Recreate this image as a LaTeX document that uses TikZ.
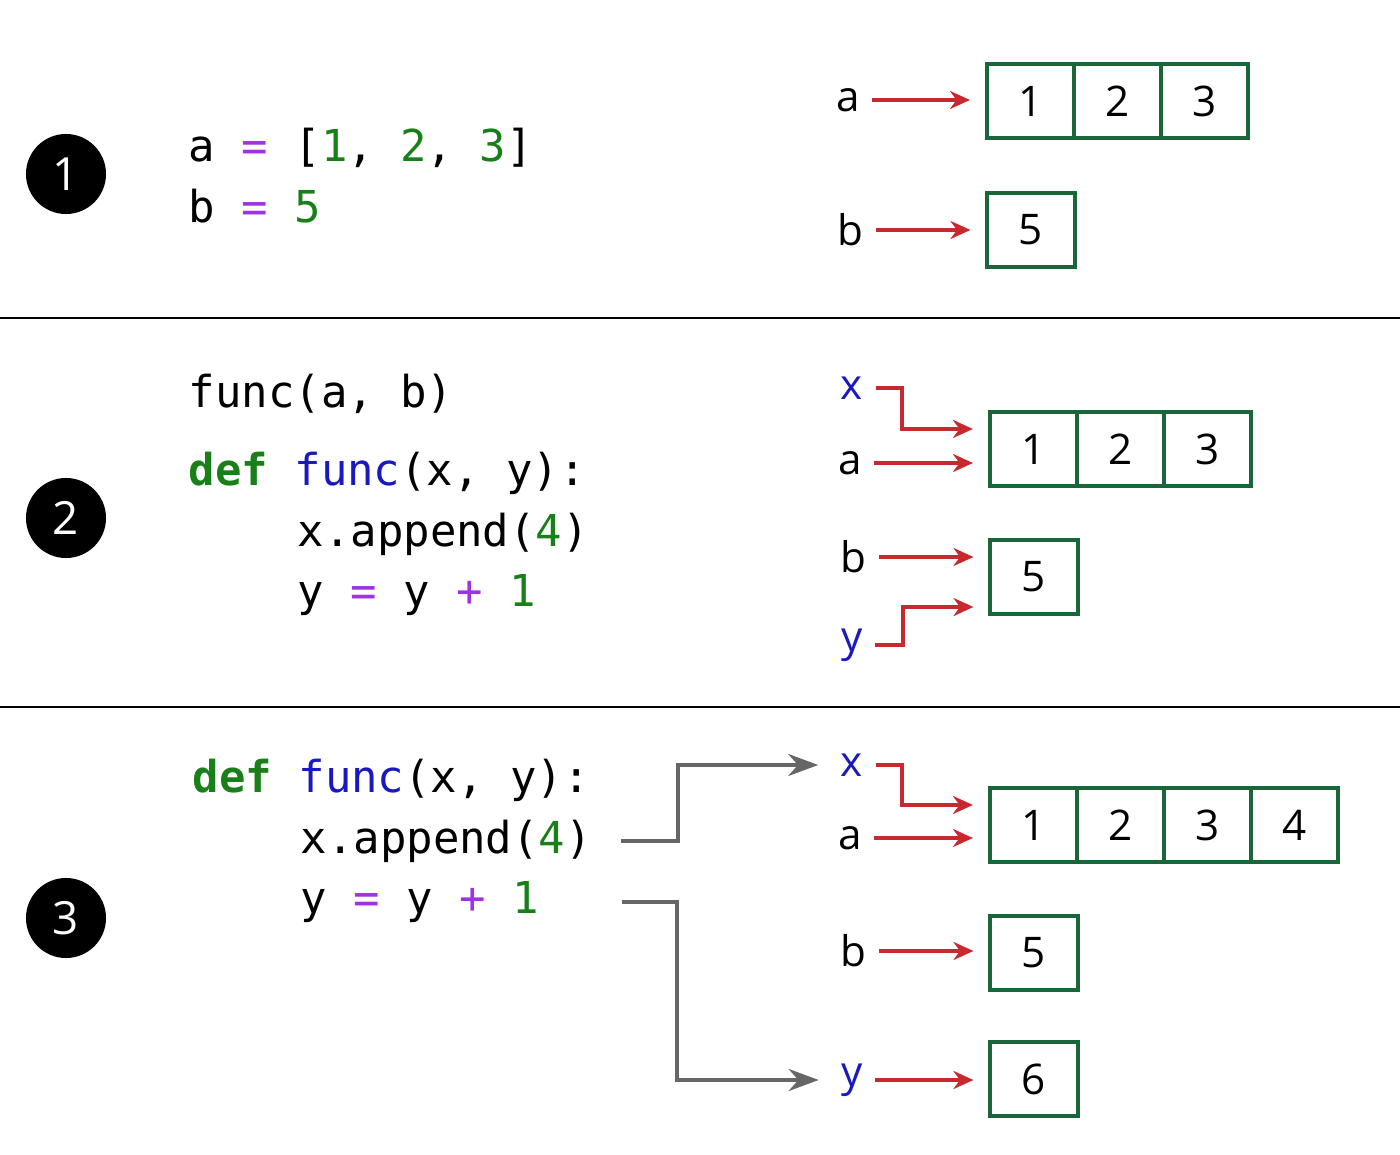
\documentclass[tikz,border=0pt]{standalone}
\usepackage{fontspec}
\setmainfont{Open Sans}
\setmonofont{DejaVu Sans Mono}
\usetikzlibrary{arrows.meta}
\definecolor{kgreen}{rgb}{0.1,0.5,0.1}
\definecolor{kpurple}{rgb}{0.62,0.2,0.9}
\definecolor{kblue}{rgb}{0.1,0.1,0.75}
\definecolor{boxgreen}{rgb}{0.1,0.4,0.22}
\definecolor{refred}{rgb}{0.78,0.16,0.18}
\newcommand{\kw}[1]{\textcolor{kgreen}{\textbf{#1}}}
\newcommand{\nm}[1]{\textcolor{kgreen}{#1}}
\newcommand{\op}[1]{\textcolor{kpurple}{#1}}
\newcommand{\fn}[1]{\textcolor{kblue}{#1}}
\tikzset{
  code/.style={anchor=west,inner sep=0,font=\fontsize{12.5}{15}\ttfamily},
  lbl/.style={inner sep=0.12cm,font=\fontsize{12}{14}\selectfont},
  cell/.style={draw=boxgreen,line width=0.04cm,minimum width=0.87cm,minimum height=0.73cm,inner sep=0,font=\fontsize{12}{14}\selectfont},
  stepdot/.style={circle,fill=black,minimum size=0.8cm,inner sep=0,text=white,font=\fontsize{13}{15}\selectfont},
  ref/.style={draw=refred,line width=0.04cm,-{Stealth[length=0.2cm,width=0.18cm]},shorten >=0.15cm},
  call/.style={draw=black!60,line width=0.04cm,-{Stealth[length=0.3cm,width=0.22cm]}}
}
\begin{document}
\begin{tikzpicture}[x=0.01cm,y=-0.01cm]
\useasboundingbox (0,0) rectangle (1400,1155);
\draw[line width=0.02cm] (0,318) -- (1400,318) (0,707) -- (1400,707);

% step 1
\node[stepdot] (s1) at (66,174) {1};
\node[code] (c11) at (188,148) {a \op{=} [\nm{1}, \nm{2}, \nm{3}]};
\node[code] (c12) at (188,206) {b \op{=} \nm{5}};
\foreach \v [count=\i] in {1,2,3}
  \node[cell] (p1a\i) at ({987+87*(\i-0.5)},101) {\v};
\node[cell] (p1b) at (1031,230) {5};
\node[lbl] (p1la) at (848,100) {a};
\node[lbl] (p1lb) at (850,230) {b};
\draw[ref] (p1la.east) -- (p1la.east -| p1a1.west);
\draw[ref] (p1lb.east) -- (p1lb.east -| p1b.west);

% step 2
\node[stepdot] (s2) at (66,518) {2};
\node[code] (c21) at (188,394) {func(a, b)};
\node[code] (c22) at (188,473) {\kw{def} \fn{func}(x, y):};
\node[code] (c23) at (297,534) {x.append(\nm{4})};
\node[code] (c24) at (297,595) {y \op{=} y \op{+} \nm{1}};
\foreach \v [count=\i] in {1,2,3}
  \node[cell] (p2a\i) at ({990+87*(\i-0.5)},449) {\v};
\node[cell] (p2b) at (1034,577) {5};
\node[lbl,text=kblue] (p2lx) at (852,388) {x};
\node[lbl] (p2la) at (850,463) {a};
\node[lbl] (p2lb) at (853,557) {b};
\node[lbl,text=kblue] (p2ly) at (852,645) {y};
\draw[ref] (p2lx.east) -- ++(26,0) |- ([yshift=0.2cm]p2a1.west);
\draw[ref] (p2la.east) -- (p2la.east -| p2a1.west);
\draw[ref] (p2lb.east) -- (p2lb.east -| p2b.west);
\draw[ref] (p2ly.east) -- ++(28,0) |- ([yshift=-0.3cm]p2b.west);

% step 3
\node[stepdot] (s3) at (66,918) {3};
\node[code] (c31) at (192,780) {\kw{def} \fn{func}(x, y):};
\node[code] (c32) at (300,841) {x.append(\nm{4})};
\node[code] (c33) at (300,902) {y \op{=} y \op{+} \nm{1}};
\foreach \v [count=\i] in {1,2,3,4}
  \node[cell] (p3a\i) at ({990+87*(\i-0.5)},825) {\v};
\node[cell] (p3b) at (1034,953) {5};
\node[cell] (p3y) at (1034,1079) {6};
\node[lbl,text=kblue] (p3lx) at (852,765) {x};
\node[lbl] (p3la) at (850,838) {a};
\node[lbl] (p3lb) at (853,951) {b};
\node[lbl,text=kblue] (p3ly) at (852,1080) {y};
\draw[ref] (p3lx.east) -- ++(26,0) |- ([yshift=0.2cm]p3a1.west);
\draw[ref] (p3la.east) -- (p3la.east -| p3a1.west);
\draw[ref] (p3lb.east) -- (p3lb.east -| p3b.west);
\draw[ref] (p3ly.east) -- (p3ly.east -| p3y.west);
\draw[call] ([xshift=0.28cm]c32.east) -- ++(57,0) |- ([xshift=-0.1cm]p3lx.west);
\draw[call] ([xshift=0.82cm]c33.east) -- ++(55,0) |- ([xshift=-0.1cm]p3ly.west);
\end{tikzpicture}
\end{document}
